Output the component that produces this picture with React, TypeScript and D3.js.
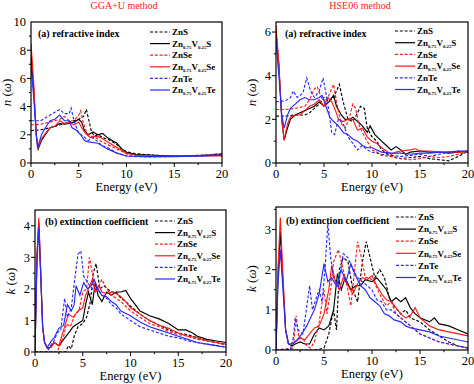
import * as d3 from "d3";

type Pt = [number, number];

// ---- series names
const names = ["ZnS", "ZnVS", "ZnSe", "ZnVSe", "ZnTe", "ZnVTe"];
const colors = ["#000000", "#000000", "#ff1a1a", "#ff1a1a", "#2a2aff", "#2a2aff"];
const dashed = [true, false, true, false, true, false];

// ---- (a) refractive index, GGA+U
const nGgaZnS: Pt[] = [[0,2.3],[1,2.35],[2,2.5],[3,2.7],[4,2.9],[4.5,3.0],[5,3.1],[5.5,3.3],[5.8,3.8],[6,3.2],[6.3,2.3],[6.6,1.9],[7,2.0],[7.5,1.8],[8,1.7],[8.5,1.5],[9,1.3],[9.5,1.0],[10,0.8],[11,0.65],[12,0.6],[13,0.55],[14,0.5],[16,0.5],[18,0.55],[20,0.65]];
const nGgaZnVS: Pt[] = [[0,7.8],[0.3,5],[0.55,2],[0.75,1.0],[1.1,1.6],[1.5,2.0],[2,2.5],[2.5,2.6],[3,2.8],[3.5,2.75],[4,2.8],[4.5,2.9],[5,3.1],[5.3,2.9],[5.6,2.3],[6,2.0],[6.5,2.2],[7,2.0],[7.5,2.1],[8,1.8],[8.5,1.6],[9,1.4],[9.5,1.0],[10,0.75],[11,0.6],[13,0.55],[15,0.5],[17,0.5],[20,0.55]];
const nGgaZnSe: Pt[] = [[0,2.7],[1,2.75],[2,2.9],[3,3.1],[3.5,3.3],[4,3.0],[4.5,3.0],[5,3.4],[5.2,3.7],[5.5,2.8],[5.8,2.2],[6.2,1.9],[6.8,1.8],[7.2,1.6],[8,1.3],[9,1.0],[10,0.65],[11,0.5],[12,0.45],[14,0.45],[17,0.5],[20,0.65]];
const nGgaZnVSe: Pt[] = [[0,8.5],[0.3,5.5],[0.55,2],[0.7,1.0],[1.1,1.7],[1.5,2.1],[2,2.5],[2.5,2.6],[3,3.0],[3.5,2.8],[4,2.9],[4.5,2.7],[5,2.9],[5.3,2.5],[5.7,2.1],[6.2,1.8],[6.8,1.9],[7.3,1.8],[8,1.5],[9,1.1],[10,0.7],[11,0.55],[13,0.5],[16,0.5],[20,0.5]];
const nGgaZnTe: Pt[] = [[0,3.0],[1,3.0],[2,3.4],[2.5,3.6],[3,3.8],[3.5,3.5],[4,3.5],[4.2,3.9],[4.5,3.0],[5,2.1],[5.5,1.9],[6,1.6],[6.5,1.8],[7,1.5],[7.5,1.2],[8,1.1],[9,0.7],[10,0.5],[11,0.45],[13,0.45],[16,0.5],[20,0.6]];
const nGgaZnVTe: Pt[] = [[0,7.0],[0.3,4.5],[0.55,2],[0.7,1.1],[1.1,2.0],[1.5,2.5],[2,3.0],[2.5,3.1],[3,3.4],[3.5,3.0],[4,3.0],[4.3,2.5],[4.8,2.3],[5.2,2.0],[5.6,1.6],[6,1.5],[7,1.4],[8,1.0],[9,0.7],[10,0.5],[12,0.45],[15,0.45],[18,0.5],[20,0.55]];

// ---- (a) refractive index, HSE06
const nHseZnS: Pt[] = [[0,2.15],[1,2.15],[2,2.2],[3,2.2],[3.5,2.3],[4,2.5],[4.5,2.7],[5,3.0],[5.5,2.8],[6,3.0],[6.6,3.6],[7,2.8],[7.5,2.0],[8,1.9],[8.5,2.3],[8.8,2.6],[9.2,2.5],[9.5,1.6],[10,1.2],[10.5,1.0],[11,0.6],[12,0.3],[13,0.2],[14,0.25],[15,0.3],[16,0.2],[17,0.15],[18,0.1],[19,0.3],[20,0.55]];
const nHseZnVS: Pt[] = [[0,6.0],[0.3,4.5],[0.6,2.0],[0.85,1.05],[1.2,1.6],[1.5,2.0],[2,2.2],[2.5,2.3],[3,2.4],[3.5,2.5],[4,2.6],[4.5,2.8],[5,2.6],[5.5,2.8],[6,3.1],[6.3,2.6],[6.8,2.2],[7.2,2.0],[7.7,2.0],[8,2.1],[8.5,1.9],[9,1.7],[9.5,1.4],[9.8,1.7],[10.3,1.3],[11,1.0],[11.5,0.8],[12,0.6],[12.5,0.75],[13,0.6],[13.5,0.4],[14,0.5],[15,0.55],[16,0.5],[17,0.5],[18,0.45],[19,0.5],[20,0.55]];
const nHseZnSe: Pt[] = [[0,2.45],[1,2.45],[2,2.5],[3,2.6],[3.5,2.9],[4,3.4],[4.3,3.5],[4.7,3.0],[5.2,2.8],[5.6,3.2],[6,3.6],[6.3,2.8],[6.8,1.8],[7.2,1.6],[7.6,2.0],[8,2.7],[8.3,2.5],[8.6,1.8],[9,1.4],[9.5,1.0],[10,0.6],[10.5,0.5],[11,0.35],[12,0.3],[13,0.2],[14,0.15],[15,0.2],[16,0.3],[17,0.25],[18,0.3],[19,0.4],[20,0.5]];
const nHseZnVSe: Pt[] = [[0,6.3],[0.3,4.5],[0.6,2.0],[0.85,1.05],[1.2,1.8],[1.5,2.1],[2,2.2],[2.5,2.2],[3,2.4],[3.5,2.6],[4,2.7],[4.5,2.9],[5,2.6],[5.4,3.0],[5.8,2.8],[6.2,2.4],[6.5,2.0],[7,1.9],[7.5,2.0],[8,2.0],[8.5,1.5],[9,1.6],[9.5,1.2],[10,1.0],[10.5,0.9],[11,0.7],[12,0.4],[12.5,0.5],[13,0.55],[14,0.6],[14.5,0.65],[15,0.55],[16,0.55],[17,0.5],[18,0.5],[20,0.5]];
const nHseZnTe: Pt[] = [[0,2.8],[1,2.85],[1.5,3.0],[1.8,3.3],[2.2,3.0],[2.8,3.2],[3.2,3.9],[3.6,3.3],[4,3.0],[4.5,3.3],[4.9,3.9],[5.2,3.2],[5.5,2.4],[5.8,1.4],[6.1,1.3],[6.5,2.0],[7,1.8],[7.5,1.2],[8,0.9],[8.5,0.6],[9,0.8],[9.5,0.6],[10,0.5],[11,0.4],[12,0.35],[13,0.3],[14,0.35],[15,0.4],[16,0.3],[17,0.4],[18,0.5],[19,0.55],[20,0.5]];
const nHseZnVTe: Pt[] = [[0,5.6],[0.3,4.0],[0.6,2.2],[0.85,1.6],[1.2,2.2],[1.5,2.5],[2,2.7],[2.5,2.9],[3,3.0],[3.5,2.9],[4,2.9],[4.5,3.0],[4.8,3.1],[5.2,2.6],[5.6,2.1],[6,1.9],[6.5,1.7],[7,1.4],[7.5,1.3],[8,1.1],[8.5,1.0],[9,0.8],[9.5,0.7],[10,0.7],[11,0.5],[12,0.45],[13,0.45],[14,0.4],[15,0.45],[16,0.45],[17,0.5],[18,0.5],[19,0.55],[20,0.55]];

// ---- (b) extinction coefficient, GGA+U
const kGgaZnS: Pt[] = [[0,0],[3.2,0],[3.5,0.2],[3.8,0.1],[4.1,0.5],[4.5,0.8],[5,0.9],[5.4,1.1],[5.8,1.6],[6.1,2.5],[6.4,2.8],[6.8,2.0],[7.2,2.1],[7.6,2.0],[8,1.9],[8.5,1.9],[9,1.7],[9.5,1.6],[10,1.45],[11,1.2],[12,1.0],[13,0.85],[14,0.7],[15,0.6],[16,0.55],[17,0.45],[18,0.35],[19,0.3],[20,0.25]];
const kGgaZnVS: Pt[] = [[0,0],[0.2,3.0],[0.4,4.1],[0.6,2.5],[0.8,0.8],[1,0.3],[1.3,0.12],[1.6,0.15],[2,0.3],[2.5,0.2],[3,0.4],[3.5,0.6],[4,0.8],[4.5,0.9],[5,1.0],[5.3,1.5],[5.6,1.9],[6,1.5],[6.3,2.2],[6.6,1.8],[7,1.6],[7.5,1.9],[8,1.8],[8.5,1.9],[9,1.9],[9.5,1.95],[10,1.7],[10.5,1.5],[11,1.3],[12,1.15],[13,1.05],[14,0.9],[15,0.7],[15.8,0.7],[16.5,0.6],[17,0.5],[18,0.4],[19,0.35],[20,0.3]];
const kGgaZnSe: Pt[] = [[0,0],[2.3,0],[2.6,0.2],[3,0.5],[3.3,0.9],[3.7,0.8],[4.2,1.2],[4.6,1.3],[5,1.9],[5.4,2.0],[5.7,3.0],[6,2.5],[6.4,1.9],[7,2.3],[7.5,2.0],[8,1.8],[8.5,1.7],[9,1.6],[9.5,1.45],[10,1.3],[11,1.1],[12,0.9],[13,0.8],[14,0.65],[15,0.55],[16,0.5],[17,0.4],[18,0.35],[19,0.3],[20,0.2]];
const kGgaZnVSe: Pt[] = [[0,0],[0.2,3.0],[0.4,4.25],[0.6,2.5],[0.8,0.8],[1,0.3],[1.3,0.1],[1.7,0.15],[2,0.3],[2.5,0.2],[3,0.7],[3.5,1.2],[4,1.1],[4.5,1.3],[5,1.4],[5.3,1.8],[5.6,2.0],[6,2.3],[6.3,1.9],[6.7,2.1],[7,1.9],[7.5,1.85],[8,1.9],[8.5,1.85],[9,1.75],[9.5,1.6],[10,1.4],[11,1.2],[12,1.0],[13,0.85],[14,0.75],[15,0.6],[16,0.5],[17,0.45],[18,0.35],[19,0.3],[20,0.25]];
const kGgaZnTe: Pt[] = [[0,0],[1.3,0],[1.6,0.2],[2,0.35],[2.3,0.6],[2.7,0.7],[3.1,1.7],[3.4,1.1],[3.8,1.4],[4.2,2.4],[4.5,3.1],[4.8,3.2],[5.1,2.4],[5.5,2.2],[6,2.0],[6.5,2.0],[7,1.8],[7.5,1.7],[8,1.5],[8.5,1.4],[9,1.2],[10,1.0],[11,0.8],[12,0.7],[13,0.6],[14,0.5],[15,0.45],[16,0.35],[17,0.3],[18,0.25],[19,0.2],[20,0.15]];
const kGgaZnVTe: Pt[] = [[0,0],[0.2,2.8],[0.4,3.95],[0.6,2.4],[0.8,0.8],[1,0.3],[1.3,0.15],[1.7,0.35],[2,0.45],[2.5,0.75],[3,0.85],[3.4,1.5],[3.8,1.3],[4.1,1.5],[4.3,2.1],[4.7,1.8],[5.1,2.2],[5.5,2.0],[5.9,2.1],[6.2,2.3],[6.6,2.0],[7,1.8],[7.5,1.75],[8,1.6],[8.5,1.5],[9,1.3],[10,1.15],[11,0.95],[12,0.8],[13,0.7],[14,0.6],[15,0.5],[16,0.4],[17,0.3],[18,0.25],[19,0.2],[20,0.15]];

// ---- (b) extinction coefficient, HSE06
const kHseZnS: Pt[] = [[0,0],[4,0],[4.5,0.02],[5,0.05],[5.5,0.4],[6,1.0],[6.3,0.5],[6.6,2.0],[7,2.3],[7.5,2.2],[8,1.5],[8.5,1.2],[9,2.2],[9.4,2.7],[9.8,2.3],[10.3,1.8],[10.8,2.0],[11.3,1.8],[11.8,1.3],[12.3,1.1],[13,0.9],[13.5,1.0],[14,0.8],[15,0.7],[16,0.5],[17,0.35],[18,0.2],[19,0.1],[20,0.05]];
const kHseZnVS: Pt[] = [[0,0],[0.2,1.8],[0.45,2.95],[0.7,1.8],[1,0.5],[1.3,0.15],[1.7,0.1],[2,0.15],[2.5,0.2],[3,0.15],[3.5,0.15],[4,0.4],[4.5,0.55],[5,0.5],[5.5,0.6],[6,1.0],[6.4,1.9],[6.8,1.5],[7.2,1.8],[7.8,1.5],[8.3,1.6],[8.8,1.6],[9.3,1.75],[10,1.7],[10.5,1.8],[11,1.65],[11.5,1.5],[12,1.2],[12.5,1.3],[13,1.2],[13.5,1.3],[14,1.05],[14.5,0.9],[15,0.8],[16,0.7],[16.5,0.8],[17,0.65],[18,0.6],[19,0.5],[20,0.4]];
const kHseZnSe: Pt[] = [[0,0],[1.8,0.05],[2.1,0.85],[2.4,0.3],[2.8,0.3],[3.2,0.1],[3.6,0.05],[4,0.2],[4.5,0.7],[5,1.5],[5.3,0.9],[5.7,1.5],[6,2.2],[6.5,2.5],[7,2.0],[7.4,1.6],[7.8,1.1],[8.1,1.8],[8.5,2.7],[8.9,2.3],[9.3,1.8],[9.7,1.8],[10.2,1.7],[10.6,1.5],[11,1.3],[11.5,1.1],[12,1.2],[12.5,0.9],[13,0.8],[14,0.6],[15,0.4],[16,0.3],[17,0.2],[18,0.15],[19,0.1],[20,0.05]];
const kHseZnVSe: Pt[] = [[0,0],[0.2,2.0],[0.45,3.3],[0.7,2.0],[1,0.5],[1.3,0.15],[1.7,0.15],[2,0.2],[2.5,0.3],[3,0.25],[3.5,0.4],[4,0.55],[4.5,0.6],[5,0.9],[5.5,1.5],[5.8,2.1],[6.2,1.7],[6.6,1.5],[7,1.8],[7.5,1.6],[8,1.4],[8.5,1.65],[9,1.8],[9.5,1.75],[10,1.85],[10.5,1.6],[11,1.4],[11.5,1.25],[12,1.2],[12.5,1.05],[13,0.9],[13.5,0.8],[14,0.85],[14.5,1.05],[15,0.8],[16,0.6],[17,0.5],[18,0.45],[19,0.4],[20,0.35]];
const kHseZnTe: Pt[] = [[0,0],[1.5,0.02],[1.8,0.3],[2,0.8],[2.3,0.5],[2.8,0.4],[3.1,0.9],[3.5,1.6],[3.8,1.0],[4.2,1.3],[4.5,1.5],[4.8,1.2],[5.1,2.0],[5.4,3.15],[5.7,2.3],[6,1.8],[6.5,1.6],[7,2.4],[7.5,2.3],[8,2.0],[8.5,1.8],[9,1.7],[9.5,1.6],[10,1.5],[10.5,1.25],[11,1.2],[11.5,1.0],[12,1.0],[13,0.8],[14,0.6],[15,0.4],[16,0.3],[17,0.2],[18,0.15],[19,0.1],[20,0.05]];
const kHseZnVTe: Pt[] = [[0,0],[0.2,1.6],[0.45,2.5],[0.7,1.6],[1,0.5],[1.3,0.15],[1.7,0.15],[2.2,0.25],[2.7,0.4],[3.2,0.6],[3.6,0.8],[4,1.0],[4.5,1.4],[5,2.15],[5.4,1.7],[5.8,1.8],[6.3,1.6],[6.8,2.0],[7.3,1.7],[7.8,2.15],[8.3,1.85],[8.8,1.6],[9.3,1.5],[9.8,1.3],[10.3,1.2],[10.8,1.1],[11.3,0.9],[11.8,0.85],[12.3,0.75],[13,0.7],[13.5,0.6],[14,0.55],[15,0.5],[16,0.45],[17,0.35],[18,0.3],[19,0.25],[20,0.2]];

const xTicks = [0, 5, 10, 15, 20];
const FONT = "Liberation Serif, Times New Roman, serif";

interface Panel {
  left: number; right: number; top: number; bottom: number;
  yMax: number; yTicks: number[];
  ySym: string; label: string;
  series: Pt[][];
  lx: number; ly: number; lgap: number;
  tx: number; ty: number;
}

const panels: Panel[] = [
  { left: 31, right: 222, top: 22, bottom: 163, yMax: 10, yTicks: [0, 2, 4, 6, 8, 10], ySym: "n", label: "(a) refractive index",
    series: [nGgaZnS, nGgaZnVS, nGgaZnSe, nGgaZnVSe, nGgaZnTe, nGgaZnVTe], lx: 150, ly: 32, lgap: 11.6, tx: 38, ty: 37 },
  { left: 276, right: 468, top: 22, bottom: 163, yMax: 6.46, yTicks: [0, 2, 4, 6], ySym: "n", label: "(a) refractive index",
    series: [nHseZnS, nHseZnVS, nHseZnSe, nHseZnVSe, nHseZnTe, nHseZnVTe], lx: 395, ly: 31, lgap: 11.7, tx: 285, ty: 37 },
  { left: 35, right: 226, top: 210, bottom: 352, yMax: 4.5, yTicks: [0, 1, 2, 3, 4], ySym: "k", label: "(b) extinction coefficient",
    series: [kGgaZnS, kGgaZnVS, kGgaZnSe, kGgaZnVSe, kGgaZnTe, kGgaZnVTe], lx: 155, ly: 221, lgap: 11.6, tx: 45, ty: 225 },
  { left: 276, right: 468, top: 207, bottom: 350, yMax: 3.56, yTicks: [0, 1, 2, 3], ySym: "k", label: "(b) extinction coefficient",
    series: [kHseZnS, kHseZnVS, kHseZnSe, kHseZnVSe, kHseZnTe, kHseZnVTe], lx: 396, ly: 217, lgap: 12.1, tx: 286, ty: 224 },
];

function LegendText({ i, x, y }: { i: number; x: number; y: number }) {
  const n = names[i];
  const big = 9, small = 4.8;
  if (!n.startsWith("ZnV")) {
    return <text x={x} y={y + 3.2} fontSize={big} fontWeight="bold">{n}</text>;
  }
  const tail = n.slice(3);
  return (
    <text x={x} y={y + 3.2} fontSize={big} fontWeight="bold">
      Zn<tspan fontSize={small} dy="1.8">0.75</tspan>
      <tspan dy="-1.8">V</tspan><tspan fontSize={small} dy="1.8">0.25</tspan>
      <tspan dy="-1.8">{tail}</tspan>
    </text>
  );
}

function PanelView({ p }: { p: Panel }) {
  const x = d3.scaleLinear().domain([0, 20]).range([p.left, p.right]);
  const y = d3.scaleLinear().domain([0, p.yMax]).range([p.bottom, p.top]);
  const line = d3.line<Pt>().x((d) => x(d[0])).y((d) => y(Math.min(d[1], p.yMax)));
  const clipId = `clip-${p.left}-${p.top}`;
  const minorX = d3.range(0, 20.01, 2.5);
  const step = p.yTicks[1] - p.yTicks[0];
  const minorY = d3.range(0, p.yMax, step / 2);
  return (
    <g>
      <defs>
        <clipPath id={clipId}>
          <rect x={p.left} y={p.top} width={p.right - p.left} height={p.bottom - p.top} />
        </clipPath>
      </defs>
      <g clipPath={`url(#${clipId})`}>
        {p.series.map((s, i) => (
          <path key={i} d={line(s) ?? ""} fill="none" stroke={colors[i]} strokeWidth={1.15}
            strokeDasharray={dashed[i] ? "3,1.8" : undefined} />
        ))}
      </g>
      <rect x={p.left} y={p.top} width={p.right - p.left} height={p.bottom - p.top} fill="none" stroke="#000" strokeWidth={1.2} />
      {minorX.map((t) => (
        <line key={t} x1={x(t)} x2={x(t)} y1={p.bottom} y2={p.bottom + (t % 5 === 0 ? 4 : 2.2)} stroke="#000" />
      ))}
      {minorY.map((t) => (
        <line key={t} x1={p.left} x2={p.left - (Math.abs(t / step - Math.round(t / step)) < 1e-6 ? 4 : 2.2)} y1={y(t)} y2={y(t)} stroke="#000" />
      ))}
      {xTicks.map((t) => (
        <text key={t} x={x(t)} y={p.bottom + 15} fontSize={12.5} textAnchor="middle">{t}</text>
      ))}
      {p.yTicks.map((t) => (
        <text key={t} x={p.left - 5} y={y(t) + 4.3} fontSize={12.5} textAnchor="end">{t}</text>
      ))}
      <text x={(p.left + p.right) / 2} y={p.bottom + 28} fontSize={12.5} textAnchor="middle">Energy (eV)</text>
      <text transform={`translate(${p.left - 20},${(p.top + p.bottom) / 2}) rotate(-90)`} fontSize={13} textAnchor="middle">
        <tspan fontStyle="italic">{p.ySym}</tspan> (<tspan fontStyle="italic">ω</tspan>)
      </text>
      <text x={p.tx} y={p.ty} fontSize={10} fontWeight="bold">{p.label}</text>
      {names.map((_, i) => {
        const ly = p.ly + i * p.lgap;
        return (
          <g key={i}>
            <line x1={p.lx} x2={p.lx + 20} y1={ly} y2={ly} stroke={colors[i]} strokeWidth={1.2}
              strokeDasharray={dashed[i] ? "3,1.8" : undefined} />
            <LegendText i={i} x={p.lx + 22} y={ly} />
          </g>
        );
      })}
    </g>
  );
}

export default function App() {
  return (
    <svg width={474} height={384} style={{ position: "absolute", left: 0, top: 0, background: "#fff", fontFamily: FONT }}>
      <rect width={474} height={384} fill="#fff" />
      <text x={124} y={9} fontSize={10} fill="#ff2020" textAnchor="middle">GGA+U method</text>
      <text x={360} y={9} fontSize={10} fill="#ff2020" textAnchor="middle">HSE06 method</text>
      {panels.map((p, i) => <PanelView key={i} p={p} />)}
    </svg>
  );
}
